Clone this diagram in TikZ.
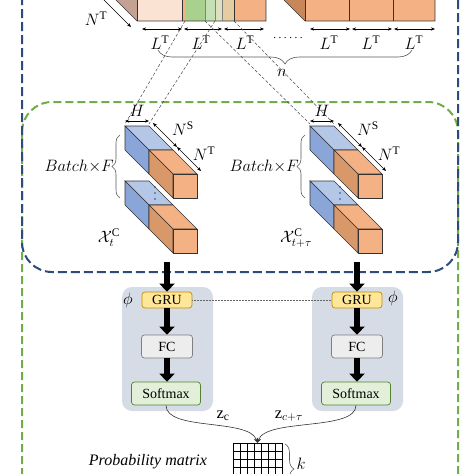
\RequirePackage{fix-cm}
\documentclass[tikz,border=0pt]{standalone}
\usepackage{fontspec}
\setmainfont{Liberation Serif}
\usetikzlibrary{arrows.meta,decorations.pathreplacing,calc}
\definecolor{navyd}{HTML}{2F4B7C}
\definecolor{greend}{HTML}{70AD47}
\definecolor{peach}{HTML}{FBE3D3}
\definecolor{mauve}{HTML}{C4A293}
\definecolor{orng}{HTML}{F4B183}
\definecolor{orngside}{HTML}{C8875A}
\definecolor{grn}{HTML}{A9D18E}
\definecolor{lgrn}{HTML}{C5E0B4}
\definecolor{pale}{HTML}{DDE2BC}
\definecolor{beige}{HTML}{E5CCA2}
\definecolor{bluetop}{HTML}{B4C7E7}
\definecolor{blueside}{HTML}{8AA5D8}
\definecolor{orngdark}{HTML}{D9986A}
\definecolor{panelc}{HTML}{D6DCE5}
\definecolor{gruf}{HTML}{FFE699}
\definecolor{grud}{HTML}{BF9000}
\definecolor{fcf}{HTML}{EDEDED}
\definecolor{fcd}{HTML}{7F7F7F}
\definecolor{smf}{HTML}{E2F0D9}
\definecolor{smd}{HTML}{548235}
\definecolor{edge}{HTML}{333333}
\tikzset{
  dimarrow/.style={{Stealth[length=4pt,width=3.2pt]}-{Stealth[length=4pt,width=3.2pt]}, line width=0.6pt, draw=black},
  lab/.style={font=\fontsize{16.5}{19}\selectfont, inner sep=0pt},
  conn/.style={dash pattern=on 3pt off 2pt, line width=0.5pt, draw=gray!55!black},
  bluebox/.style={draw=navyd, line width=2pt, dash pattern=on 9pt off 4pt, rounded corners=30pt},
  greenbox/.style={draw=greend, line width=2pt, dash pattern=on 8pt off 4pt, rounded corners=30pt},
  panel/.style={fill=panelc, rounded corners=10pt},
  blk/.style={rounded corners=3pt, line width=0.7pt, font=\fontsize{14}{16}\selectfont, inner sep=0pt},
  grubox/.style={blk, fill=gruf, draw=grud, minimum width=50pt, minimum height=16pt},
  fcbox/.style={blk, fill=fcf, draw=fcd, minimum width=51pt, minimum height=23pt},
  smbox/.style={blk, fill=smf, draw=smd, minimum width=69pt, minimum height=23pt},
  fat/.style={line width=5.5pt, -{Triangle[length=8pt,width=15pt]}},
  curv/.style={line width=0.6pt, draw=edge, -{Stealth[length=5pt,width=4.5pt]}},
  bracestyle/.style={decorate, line width=0.6pt, draw=gray!70!black},
  faceedge/.style={draw=edge, line width=0.6pt}
}
\newcommand\cubebar[2]{%
  \begin{scope}[shift={(#1,#2)}]
    \filldraw[faceedge, fill=bluetop] (0,0)--(24,0)--(48,24)--(24,24)--cycle;
    \filldraw[faceedge, fill=blueside] (0,0)--(24,24)--(24,48)--(0,24)--cycle;
    \filldraw[faceedge, fill=orng] (24,24)--(48,24)--(72,48)--(48,48)--cycle;
    \filldraw[faceedge, fill=orngdark] (24,24)--(48,48)--(48,72)--(24,48)--cycle;
    \filldraw[faceedge, fill=orng] (48,48) rectangle (72,72);
  \end{scope}}
\begin{document}
\begin{tikzpicture}[x=1pt,y=-1pt]
\useasboundingbox (0,0) rectangle (474,474);
\clip (0,0) rectangle (474,474);
\fill[white] (0,0) rectangle (474,474);

% dashed frames
\draw[greenbox] (22,102) rectangle (458,530);
\draw[bluebox] (22,-60) rectangle (458,272);

% top sequence blocks
\fill[mauve] (137,21)--(106,-10)--(137,-10)--cycle;
\fill[peach] (137,-10) rectangle (182,21);
\fill[orng] (182,-10) rectangle (185,21);
\fill[grn] (185,-10) rectangle (205,21);
\fill[lgrn] (205,-10) rectangle (215,21);
\fill[pale] (215,-10) rectangle (222,21);
\fill[beige] (222,-10) rectangle (234,21);
\fill[orng] (234,-10) rectangle (266,21);
\draw[faceedge] (106,-10)--(137,21)--(266,21)--(266,-10);
\draw[faceedge] (137,-10)--(137,21);
\draw[faceedge] (182,-10)--(182,21);
\draw[faceedge] (234,-10)--(234,21);
\draw[line width=0.3pt, draw=gray] (205,-10)--(205,21) (215,-10)--(215,21) (222,-10)--(222,21);

\fill[orngside] (305,21)--(274,-10)--(305,-10)--cycle;
\fill[orng] (305,-10) rectangle (435,21);
\draw[faceedge] (274,-10)--(305,21)--(435,21)--(435,-10);
\draw[faceedge] (305,-10)--(305,21) (349,-10)--(349,21) (393,-10)--(393,21);

% N^T at top
\draw[dimarrow] (100,-4) -- (131,27);
\node[lab] (ntop) at (96,19) {$N^{\mathrm{T}}$};

% L^T dimension arrows
\foreach \a/\b/\c in {142/182/160, 184/222/201, 224/264/245, 310/350/329, 352/392/371, 394/435/414}{
  \draw[dimarrow] (\a,29) -- (\b,29);
  \node[lab] at (\c,43) {$L^{\mathrm{T}}$};
}
\node[inner sep=0pt, font=\fontsize{11}{12}\selectfont] (dots) at (288,38) {.\hspace{2.6pt}.\hspace{2.6pt}.\hspace{2.6pt}.\hspace{2.6pt}.\hspace{2.6pt}.};
\draw[bracestyle, decoration={brace, amplitude=14pt, mirror}] (158,50) -- (412,50);
\node[lab] (nlab) at (282,73) {$n$};

% connector anchors
\coordinate (sA) at (185,21);
\coordinate (sB) at (215,21);
\coordinate (sC) at (205,21);
\coordinate (sD) at (234,21);
\coordinate (bA) at (125,124);
\coordinate (bB) at (149,124);
\coordinate (bC) at (310,124);
\coordinate (bD) at (334,124);
\draw[conn] (sA) -- (bA);
\draw[conn] (sB) -- (bB);
\draw[conn] (sC) -- (bC);
\draw[conn] (sD) -- (bD);

% bars
\cubebar{125}{126}
\cubebar{125}{181}
\cubebar{310}{126}
\cubebar{310}{181}
\foreach \dx in {0,185}{
  \foreach \yy in {187,193,199}{\fill[navyd] (155+\dx,\yy) circle (0.8pt);}
  \draw[dimarrow] (125+\dx,121) -- (149+\dx,121);
  \node[lab] at (137+\dx,111) {$H$};
  \draw[dimarrow] (153+\dx,123) -- (177+\dx,147);
  \draw[dimarrow] (177+\dx,147) -- (201+\dx,171);
  \node[lab] at (183+\dx,129) {$N^{\mathrm{S}}$};
  \node[lab] at (204+\dx,154) {$N^{\mathrm{T}}$};
  \draw[bracestyle, decoration={brace, amplitude=8pt}] (120+\dx,198) -- (120+\dx,135);
  \node[lab, anchor=east] at (114+\dx,166) {$Batch{\times}F$};
}
\node[lab] (x1) at (109,238) {$\mathcal{X}_t^{\mathrm{C}}$};
\node[lab] (x2) at (296,238) {$\mathcal{X}_{t+\tau}^{\mathrm{C}}$};

% lower part
\fill[panel] (122,287) rectangle (213,411);
\fill[panel] (312,287) rectangle (403,411);
\node[grubox] (g1) at (167,300) {GRU};
\node[fcbox] (f1) at (167,346.5) {FC};
\node[smbox] (s1) at (166,393.5) {Softmax};
\node[grubox] (g2) at (357,300) {GRU};
\node[fcbox] (f2) at (357,346.5) {FC};
\node[smbox] (s2) at (356,393.5) {Softmax};
\coordinate (in1) at (167,262);
\coordinate (in2) at (357,262);
\draw[fat] (in1) -- (g1.north);
\draw[fat] (in2) -- (g2.north);
\draw[fat] (g1.south) -- (f1.north);
\draw[fat] (f1.south) -- (f1.south |- s1.north);
\draw[fat] (g2.south) -- (f2.north);
\draw[fat] (f2.south) -- (f2.south |- s2.north);
\draw[densely dotted, line width=0.5pt, draw=gray!80!black] (g1.east) -- (g2.west);
\node[lab] (phi1) at (128,300) {$\phi$};
\node[lab] (phi2) at (393,298) {$\phi$};

% matrix
\coordinate (mt) at (257.5,443);
\foreach \i in {0,...,7}{\draw[line width=0.7pt] (233+7*\i,443) -- (233+7*\i,476);}
\foreach \j in {0,...,4}{\draw[line width=0.7pt] (233,443+8*\j) -- (282,443+8*\j);}
\draw[curv] (s1.south) .. controls +(0,26) and +(-8,-25) .. (mt);
\draw[curv] (s2.south) .. controls +(0,26) and +(8,-25) .. (mt);
\node[lab] (zc) at (223,416) {$\mathrm{z}_{\mathrm{c}}$};
\node[lab] (zct) at (289,416) {$\mathrm{z}_{c+\tau}$};
\draw[bracestyle, decoration={brace, amplitude=9pt}] (285,444) -- (285,494);
\node[lab, anchor=south] (klab) at (301,470) {$k$};
\node[inner sep=0pt, font=\fontsize{16}{18}\selectfont\itshape] (pm) at (148,462) {Probability matrix};
\end{tikzpicture}
\end{document}
